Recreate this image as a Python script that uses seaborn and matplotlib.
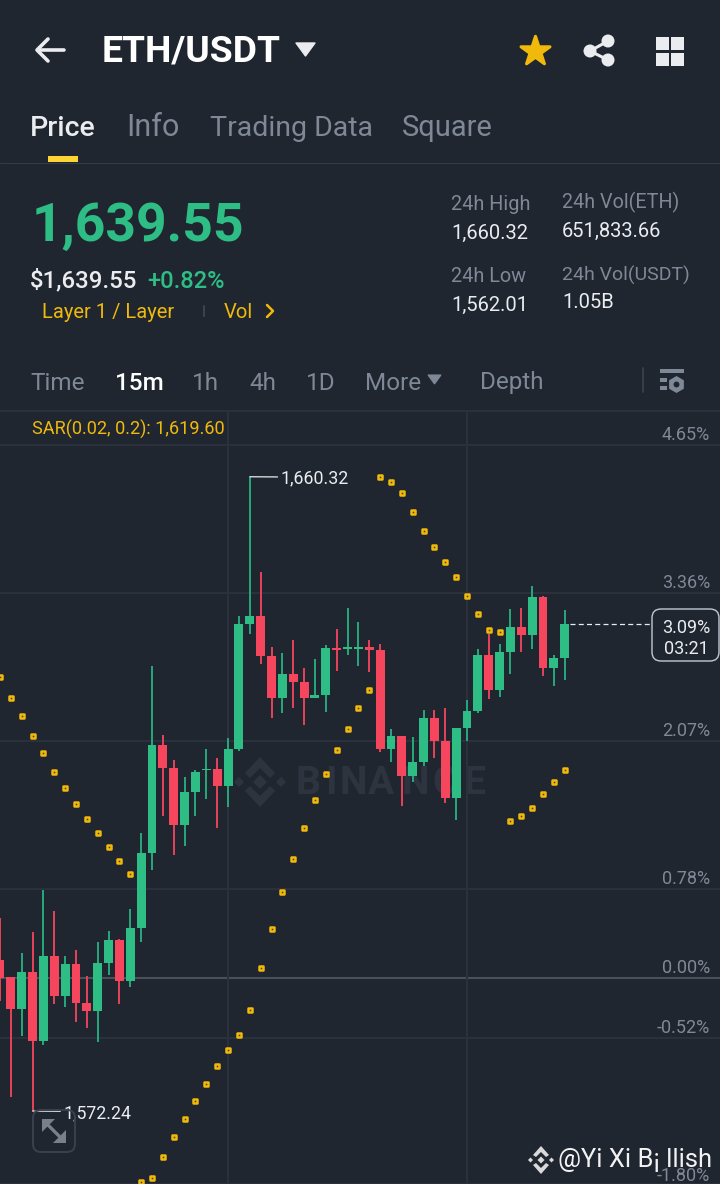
import numpy as np
import pandas as pd
import seaborn as sns
import matplotlib
matplotlib.use("Agg")
import matplotlib.pyplot as plt
from matplotlib.patches import Polygon, Rectangle, FancyBboxPatch, Circle

# candles, in % from the 24h open line
highs = [0.52, 0.01, 0.22, 0.40, 0.77, 0.58, 0.19, 0.24, 0.02, 0.31, 0.41, 0.34, 0.60, 1.26, 2.72, 2.12, 1.90, 1.75,
         1.81, 2.00, 1.92, 2.09, 3.16, 4.37, 3.54, 2.89, 2.83, 2.95, 2.70, 2.78, 2.90, 3.04, 3.23, 3.10, 2.95, 2.91,
         2.17, 2.11, 2.10, 2.34, 2.34, 2.35, 2.18, 2.42, 2.87, 3.00, 2.91, 3.22, 3.23, 3.42, 3.33, 2.82, 3.21]
lows = [-0.20, -1.04, -0.51, -1.16, -0.58, -0.23, -0.25, -0.38, -0.44, -0.56, 0.03, -0.23, -0.08, 0.31, 0.94, 1.41,
        1.07, 1.15, 1.41, 1.56, 1.31, 1.49, 1.98, 3.00, 2.74, 2.27, 2.31, 2.35, 2.21, 2.44, 2.32, 2.68, 2.82, 2.72,
        2.67, 1.97, 1.88, 1.50, 1.71, 1.85, 1.92, 1.53, 1.38, 2.07, 2.31, 2.43, 2.45, 2.65, 2.84, 2.87, 2.63, 2.55, 2.60]
opens = [0.16, 0.01, -0.27, 0.05, -0.55, 0.19, -0.16, 0.12, -0.22, -0.29, 0.13, 0.33, -0.03, 0.44, 1.09, 2.03, 1.83,
         1.33, 1.62, 1.81, 1.82, 1.67, 2.00, 3.09, 3.16, 2.81, 2.44, 2.65, 2.58, 2.44, 2.47, 2.88, 2.87, 2.87, 2.89,
         2.86, 2.00, 2.11, 1.76, 1.88, 2.27, 2.07, 1.57, 2.18, 2.33, 2.82, 2.51, 2.84, 3.06, 2.99, 3.32, 2.70, 2.79]
closes = [0.00, -0.27, 0.05, -0.55, 0.19, -0.16, 0.12, -0.22, -0.29, 0.13, 0.33, -0.03, 0.44, 1.09, 2.03, 1.83, 1.33,
          1.62, 1.80, 1.82, 1.67, 2.00, 3.09, 3.16, 2.81, 2.44, 2.65, 2.58, 2.44, 2.47, 2.88, 2.86, 2.89, 2.89, 2.86,
          2.00, 2.11, 1.76, 1.88, 2.27, 2.07, 1.57, 2.18, 2.33, 2.82, 2.51, 2.84, 3.06, 2.99, 3.32, 2.70, 2.79, 3.09]

# parabolic SAR, one dot per candle
sar = [2.62, 2.44, 2.28, 2.11, 1.96, 1.80, 1.66, 1.52, 1.39, 1.26, 1.14, 1.02, 0.91, -1.78, -1.74, -1.56, -1.39,
       -1.23, -1.07, -0.92, -0.77, -0.63, -0.50, -0.28, 0.09, 0.43, 0.75, 1.04, 1.31, 1.55, 1.78, 1.99, 2.17, 2.35,
       2.51, 4.37, 4.32, 4.23, 4.06, 3.90, 3.76, 3.63, 3.50, 3.33, 3.17, 3.03, 3.02, 1.37, 1.41, 1.48, 1.60, 1.71, 1.81]

grid_levels = [4.65, 3.36, 2.07, 0.78, 0.00, -0.52, -1.80]
grid_labels = ["4.65%", "3.36%", "2.07%", "0.78%", "0.00%", "-0.52%", "-1.80%"]
time_lines = [21, 43]
last_pct = 3.09

BG = "#1f2630"
GREEN = "#2ebd85"
RED = "#f6465d"
YELLOW = "#f0b90b"
WHITE = "#eaecef"
GRAY = "#7f8896"
GRID = "#2a313c"

sns.set_theme(style="dark")
plt.rcParams["font.family"] = ["Roboto", "DejaVu Sans"]

fig = plt.figure(figsize=(7.2, 11.84), dpi=100, facecolor=BG)

# under the chart: watermark. over it: the app chrome. both in pixel coords
back = fig.add_axes([0, 0, 1, 1], zorder=0)
ui = fig.add_axes([0, 0, 1, 1], zorder=2)
for a in (back, ui):
    a.set_xlim(0, 720)
    a.set_ylim(1184, 0)
    a.axis("off")


def label(x, y, s, size, color=WHITE, ha="left", weight="normal", ax=ui):
    ax.text(x, y + 2, s, fontsize=size, color=color, ha=ha, va="center", fontweight=weight)


# header
ui.plot([64, 38], [50, 50], color=WHITE, lw=2.6, solid_capstyle="round")
ui.plot([48, 37, 48], [39, 50, 61], color=WHITE, lw=2.6, solid_capstyle="round", solid_joinstyle="round")
label(102, 50, "ETH/USDT", 26.8, "#ffffff", weight="bold")
ui.add_patch(Polygon([[296, 43], [315, 43], [305.5, 56]], fc=WHITE, ec=WHITE, lw=1, joinstyle="round"))
ui.scatter([535], [51], marker="*", s=480, color=YELLOW, edgecolors=YELLOW, linewidths=2.2)
for sx, sy in [(608, 41), (590, 51), (608, 60)]:
    ui.add_patch(Circle((sx, sy), 6.5, fc=WHITE, ec="none"))
ui.plot([608, 590, 608], [41, 51, 60], color=WHITE, lw=2.2)
for gx, gy in [(656, 37), (671, 37), (656, 53), (671, 53)]:
    ui.add_patch(Rectangle((gx, gy), 12.5, 12.5, fc=WHITE, ec="none"))

# tabs
label(30, 126, "Price", 20.5, WHITE, weight="medium")
label(126, 126, "Info", 22, GRAY)
label(210, 126, "Trading Data", 20.5, GRAY)
label(402, 126, "Square", 20.9, GRAY)
ui.add_patch(Rectangle((48, 156), 30, 6, fc="#fcd535", ec="none"))
ui.plot([0, 720], [162.5, 162.5], color="#343b46", lw=0.8)

# price block
label(32, 224, "1,639.55", 38.5, GREEN, weight="bold")
label(30, 279, "$1,639.55", 17.3, WHITE, weight="medium")
label(147, 279, "+0.82%", 17, GREEN, weight="medium")
label(42, 311, "Layer 1 / Layer", 14.5, YELLOW)
ui.plot([204, 204], [306, 316], color="#3d4450", lw=1.4)
label(224, 311, "Vol", 14.5, YELLOW)
ui.plot([267, 273, 267], [305, 311, 317], color=YELLOW, lw=1.8)

label(451, 203, "24h High", 14.3, GRAY)
label(451, 231, "1,660.32", 14.5, WHITE)
label(562, 200, "24h Vol(ETH)", 14.2, GRAY)
label(562, 229, "651,833.66", 14.5, WHITE)
label(451, 275, "24h Low", 14.3, GRAY)
label(451, 303, "1,562.01", 14.5, WHITE)
label(562, 273, "24h Vol(USDT)", 14, GRAY)
label(562, 301, "1.05B", 14.5, WHITE)

# interval row
label(30, 381, "Time", 17.5, GRAY)
label(115, 381, "15m", 17.5, "#ffffff", weight="medium")
label(192, 381, "1h", 17.5, GRAY)
label(249, 381, "4h", 17.5, GRAY)
label(306, 381, "1D", 17.5, GRAY)
label(365, 381, "More", 17.5, GRAY)
ui.add_patch(Polygon([[428, 375], [441, 375], [434.5, 384]], fc=GRAY, ec=GRAY, lw=0.8))
label(480, 381, "Depth", 17.5, GRAY)
ui.plot([642.5, 642.5], [368, 392], color="#3d4450", lw=1.2)
ui.add_patch(Rectangle((660, 369), 24, 4, fc=GRAY, ec="none"))
ui.add_patch(Rectangle((660, 378), 7, 4, fc=GRAY, ec="none"))
ui.add_patch(Rectangle((660, 386), 7, 4, fc=GRAY, ec="none"))
ui.scatter([676], [384], marker="h", s=150, color=GRAY, linewidths=0)
ui.scatter([676], [384], marker="o", s=18, color=BG, linewidths=0)

# BINANCE watermark
wm = "#2d343f"
for px, py, r in [(260, 782, 7), (239, 782, 5), (281, 782, 5)]:
    back.add_patch(Polygon([[px - r, py], [px, py - r], [px + r, py], [px, py + r]], fc=wm, ec="none"))
back.add_patch(Polygon([[245, 773], [260, 757], [275, 773], [270, 778], [260, 768], [250, 778]], fc=wm, ec="none"))
back.add_patch(Polygon([[245, 791], [250, 786], [260, 796], [270, 786], [275, 791], [260, 807]], fc=wm, ec="none"))
for lx, ch in zip([295, 325, 340, 368, 402, 432, 463], "BINANCE"):
    back.text(lx, 783, ch, fontsize=28, color=wm, fontweight="bold", ha="left", va="center")

# chart area, in % units on the y axis and candle index on the x axis
ax = fig.add_axes([0, 0, 1, (1184 - 411) / 1184], zorder=1)
ax.patch.set_visible(False)
for s in ax.spines.values():
    s.set_visible(False)

df = pd.DataFrame({"i": np.arange(len(opens)), "open": opens, "close": closes, "high": highs, "low": lows, "sar": sar})
df["bottom"] = df[["open", "close"]].min(axis=1)
df["height"] = (df["close"] - df["open"]).abs()
df["up"] = df["close"] >= df["open"]

for lev in grid_levels:
    ax.axhline(lev, color="#4a505a" if lev == 0 else GRID, lw=1.5, zorder=1)
for t in time_lines:
    ax.axvline(t, color=GRID, lw=1.5, zorder=1)

for up, color, wick in [(True, GREEN, "#27a57a"), (False, RED, "#e2415a")]:
    part = df[df["up"] == up]
    ax.vlines(part["i"], part["low"], part["high"], color=wick, lw=1.45, zorder=2)
    sns.barplot(data=part, x="i", y="height", bottom=part["bottom"].values, native_scale=True, color=color,
                saturation=1, width=0.82, errorbar=None, linewidth=0, zorder=3, ax=ax)

sns.scatterplot(data=df, x="i", y="sar", marker="s", s=5.5, color="#4a3c14", edgecolor=YELLOW, linewidth=1.8,
                zorder=4, ax=ax, legend=False)

ax.set_xlim(0, 720 / 10.86)
ax.set_ylim((978 - 1184) / 114.7, (978 - 411) / 114.7)
ax.set_xticks([])
ax.set_yticks([])
ax.set_xlabel("")
ax.set_ylabel("")

# high / low callouts
hi = df["high"].idxmax()
lo = df["low"].idxmin()
ax.annotate("1,660.32", xy=(hi, df["high"][hi]), xytext=(31, -2), textcoords="offset pixels", color=WHITE, fontsize=12.8,
            va="center", arrowprops=dict(arrowstyle="-", color=WHITE, lw=0.9, shrinkA=0, shrinkB=0, relpos=(0, 0.6)), zorder=5)
ax.annotate("1,572.24", xy=(lo, df["low"][lo]), xytext=(31, -2), textcoords="offset pixels", color=WHITE, fontsize=12.8,
            va="center", arrowprops=dict(arrowstyle="-", color=WHITE, lw=0.9, shrinkA=0, shrinkB=0, relpos=(0, 0.6)), zorder=5)

# last price line
ax.plot([df["i"].iloc[-1] + 0.45, 652 / 10.86], [last_pct, last_pct], color=WHITE, lw=0.9, dashes=(4, 2.6), zorder=2)

# chart overlays
ui.plot([0, 720], [411, 411], color=GRID, lw=1.5)
label(32, 427, "SAR(0.02, 0.2): 1,619.60", 13.1, YELLOW)
for lev, txt in zip(grid_levels, grid_labels):
    py = 978 - lev * 114.7
    label(710, 1174 if lev < -1 else py - 12, txt, 13, GRAY, ha="right")

ui.add_patch(FancyBboxPatch((652, 609), 67, 52, boxstyle="round,pad=0,rounding_size=9", fc=BG, ec="#c4c9d1", lw=1))
label(686, 626, "3.09%", 13, WHITE, ha="center")
label(686, 647, "03:21", 13, WHITE, ha="center")

ui.add_patch(FancyBboxPatch((33, 1110), 42, 42, boxstyle="round,pad=0,rounding_size=8", fc="none", ec="#3a414c", lw=1.4))
ui.add_patch(Polygon([[42, 1119], [55, 1119], [42, 1132]], fc="#7a8089", ec="none"))
ui.add_patch(Polygon([[66, 1143], [53, 1143], [66, 1130]], fc="#7a8089", ec="none"))
ui.plot([46, 62], [1123, 1139], color="#7a8089", lw=2.4)

# share watermark, bottom right
mark = "#d9d9d9"
for px, py, r in [(541, 1160, 3.5), (530.5, 1160, 2.5), (551.5, 1160, 2.5)]:
    ui.add_patch(Polygon([[px - r, py], [px, py - r], [px + r, py], [px, py + r]], fc=mark, ec="none"))
ui.add_patch(Polygon([[533, 1155], [541, 1146], [549, 1155], [546, 1157], [541, 1152], [536, 1157]], fc=mark, ec="none"))
ui.add_patch(Polygon([[533, 1165], [536, 1163], [541, 1168], [546, 1163], [549, 1165], [541, 1174]], fc=mark, ec="none"))
label(558, 1158, "@Yi Xi B¡ llish", 18.4, "#f2f2f2")

fig.savefig("out.png", dpi=100, facecolor=BG)
